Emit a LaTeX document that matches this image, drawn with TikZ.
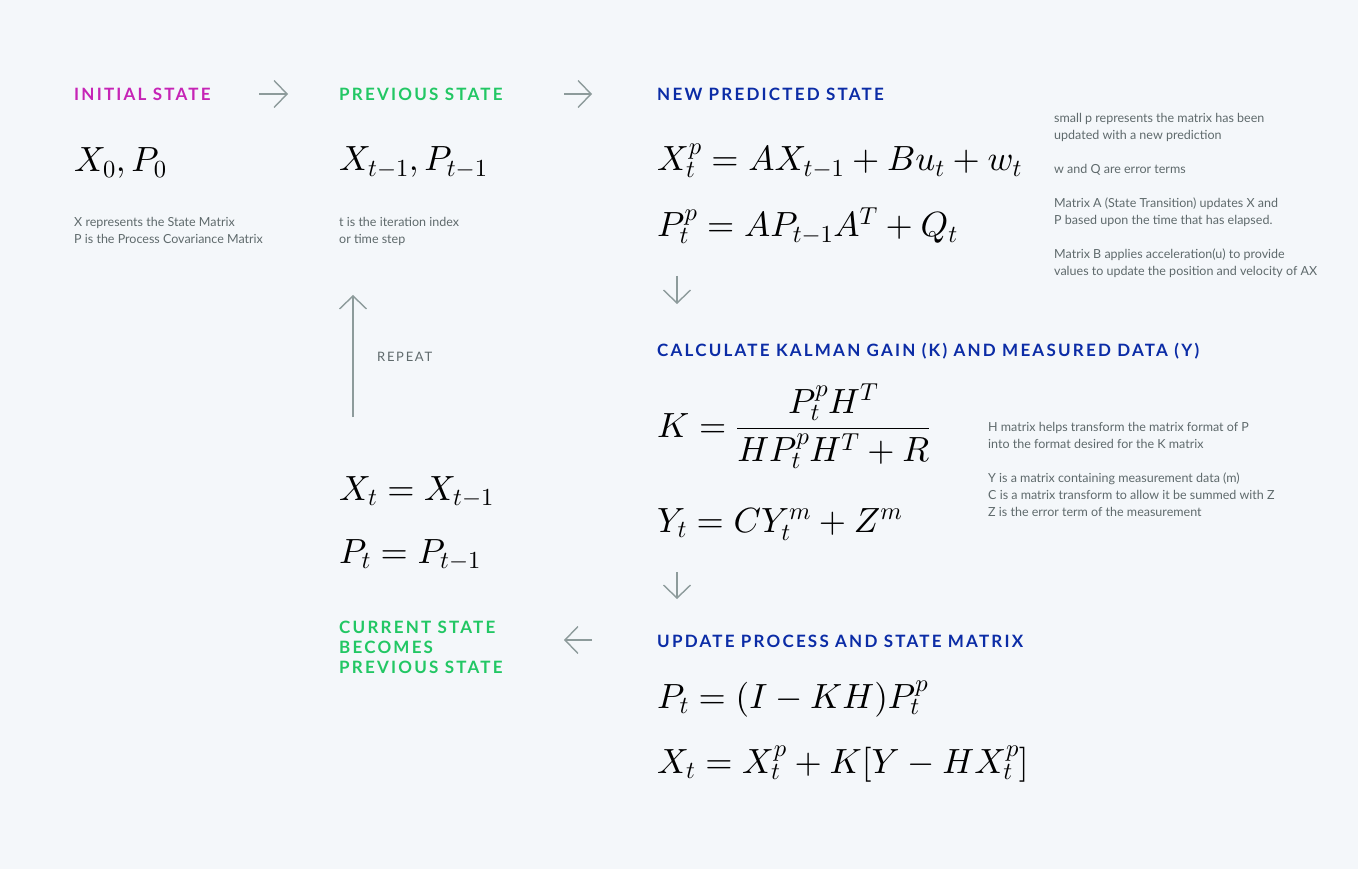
\RequirePackage{fix-cm}
\documentclass[tikz,border=0pt]{standalone}
\usepackage{amsmath}
\usepackage{fontspec}
\usetikzlibrary{arrows.meta}

% math from the 10pt designs, scaled up
\DeclareFontShape{OML}{cmm}{m}{it}{<->cmmi10}{}
\DeclareFontShape{OMS}{cmsy}{m}{n}{<->cmsy10}{}
\DeclareFontShape{OT1}{cmr}{m}{n}{<->cmr10}{}

\newfontfamily\headfont[LetterSpace=13]{Lato}
\newfontfamily\notefont{Lato}
\newcommand{\stack}[1]{\begin{tabular}[t]{@{}l@{}}#1\end{tabular}}

\definecolor{paper}{HTML}{F4F7FA}
\definecolor{initcol}{HTML}{C624B6}
\definecolor{prevcol}{HTML}{22C764}
\definecolor{stepcol}{HTML}{0B2CA6}
\definecolor{notegray}{HTML}{5F6A6C}
\definecolor{arrowgray}{HTML}{8D9B9B}

\begin{document}
\begin{tikzpicture}[x=1pt,y=-1pt,
  head/.style={anchor=base west,inner sep=0pt,font=\headfont\bfseries\fontsize{17}{20}\selectfont},
  note/.style={anchor=base west,inner sep=0pt,text=notegray,font=\notefont\fontsize{12.5}{17}\selectfont},
  eq/.style={anchor=base west,inner sep=0pt,font=\fontsize{35}{42}\selectfont},
  flow/.style={draw=arrowgray,line width=1.4pt,-{Straight Barb[length=13pt,width=27pt,line width=1.4pt]}}]

 \fill[paper] (0,0) rectangle (1358,869); % page background
 \useasboundingbox (0,0) rectangle (1358,869);

% first column
 \node[head,text=initcol] (init) at (74,101) {INITIAL STATE};
 \node[eq] (initeq) at (74,172) {$X_0, P_0$};
 \node[note] (initnote) at (74,227) {\stack{X represents the State Matrix\\P is the Process Covariance Matrix}};

% second column
 \node[head,text=prevcol] (prev) at (339,101) {PREVIOUS STATE};
 \node[eq] (preveq) at (339,171) {$X_{t-1}, P_{t-1}$};
 \node[note] (prevnote) at (339,227) {\stack{t is the iteration index\\or time step}};

 \node[head,text=notegray,font=\headfont\fontsize{13}{16}\selectfont] (repeat) at (377,361) {REPEAT};
 \node[eq] (keepx) at (339,500) {$X_t = X_{t-1}$};
 \node[eq] (keepp) at (339,563) {$P_t = P_{t-1}$};
 \node[head,text=prevcol] (becomes) at (339,633) {\stack{CURRENT STATE\\BECOMES\\PREVIOUS STATE}};

% third column: predict
 \node[head,text=stepcol] (predict) at (657,101) {NEW PREDICTED STATE};
 \node[eq] (predx) at (657,171) {$X^p_t = AX_{t-1} + Bu_t + w_t$};
 \node[eq] (predp) at (657,237) {$P^p_t = AP_{t-1}A^T + Q_t$};
 \node[note] (prednote) at (1054,123) {\stack{small p represents the matrix has been\\updated with a new prediction\\[17pt]w and Q are error terms\\[17pt]Matrix A (State Transition) updates X and\\P based upon the time that has elapsed.\\[17pt]Matrix B applies acceleration(u) to provide\\values to update the position and velocity of AX}};

% third column: gain
 \node[head,text=stepcol] (gain) at (657,356) {CALCULATE KALMAN GAIN (K) AND MEASURED DATA (Y)};
 \node[eq] (gaink) at (657,437) {$K = \dfrac{P^p_t H^T}{HP^p_t H^T + R}$};
 \node[eq] (gainy) at (657,532) {$Y_t = CY^m_t + Z^m$};
 \node[note] (gainnote) at (988,431) {\stack{H matrix helps transform the matrix format of P\\into the format desired for the K matrix\\[17pt]Y is a matrix containing measurement data (m)\\C is a matrix transform to allow it be summed with Z\\Z is the error term of the measurement}};

% third column: update
 \node[head,text=stepcol] (update) at (657,647) {UPDATE PROCESS AND STATE MATRIX};
 \node[eq] (updp) at (657,708) {$P_t = (I - KH)P^p_t$};
 \node[eq] (updx) at (657,773) {$X_t = X^p_t + K[Y - HX^p_t]$};

% arrow ends
 \coordinate (a1s) at (259,94);  \coordinate (a1e) at (288,94);
 \coordinate (a2s) at (564,94);  \coordinate (a2e) at (592,94);
 \coordinate (a3s) at (677,276); \coordinate (a3e) at (677,304);
 \coordinate (a4s) at (677,572); \coordinate (a4e) at (677,599);
 \coordinate (a5s) at (592,640); \coordinate (a5e) at (564,640);
 \coordinate (a6s) at (353,417); \coordinate (a6e) at (353,295);

 \draw[flow] (a1s) -- (a1e); % initial to previous
 \draw[flow] (a2s) -- (a2e); % previous to predicted
 \draw[flow] (a3s) -- (a3e); % predicted to gain
 \draw[flow] (a4s) -- (a4e); % gain to update
 \draw[flow] (a5s) -- (a5e); % update back to current
 \draw[flow] (a6s) -- (a6e); % repeat

\end{tikzpicture}
\end{document}
